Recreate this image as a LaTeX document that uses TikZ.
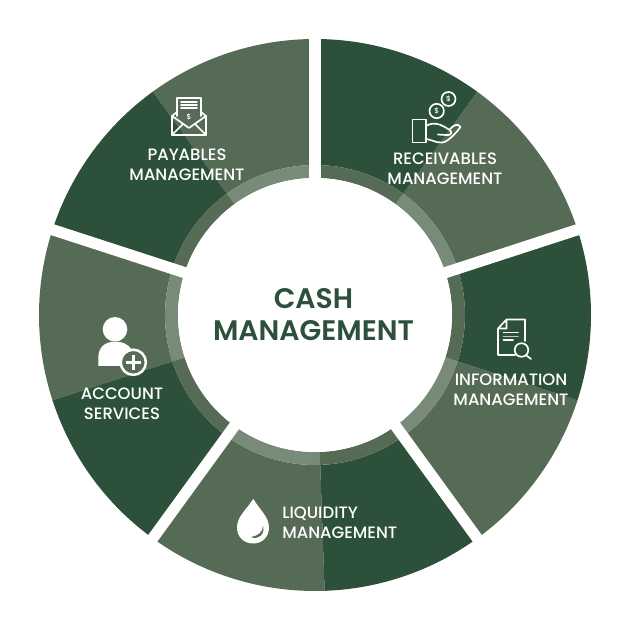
\documentclass[tikz,border=0pt]{standalone}
\usepackage{fontspec}
\setmainfont{Poppins}
\newfontfamily\lblfont{Poppins Medium}
\newfontfamily\ttlfont{Poppins SemiBold}
\usepackage{tikz}
\definecolor{darkgreen}{HTML}{2D503A}
\definecolor{midgreen}{HTML}{566B56}
\definecolor{palegreen}{HTML}{778B78}
\tikzset{
  lbl/.style={text=white, font=\fontsize{12.35}{15}\selectfont\lblfont, align=center, inner sep=0pt},
  ico/.style={draw=white, line width=1.25pt, line join=round, line cap=round},
  coin/.style={text=white, font=\fontsize{5.5}{6}\selectfont\lblfont, inner sep=0pt}
}
\def\sector#1#2#3#4{
  \fill[#3] (#1:276) arc[start angle=#1, end angle=#2, radius=276] -- (#2:150) arc[start angle=#2, end angle=#1, radius=150] -- cycle;
  \fill[#4] (#1:150) arc[start angle=#1, end angle=#2, radius=150] -- (#2:137) arc[start angle=#2, end angle=#1, radius=137] -- cycle;
}
\begin{document}
\begin{tikzpicture}[x=0.75pt, y=0.75pt]
        \useasboundingbox (-315,-313) rectangle (317,315);
        \coordinate (c) at (0,0);
        % the wheel, five parts of two tones
        \foreach \x/\m in {18/54,-54/-18,-126/-88,-198/-162,-270/-234}{
        \pgfmathsetmacro{\e}{\x+72}
        \sector{\x}{\m}{midgreen}{palegreen}
        \sector{\m}{\e}{darkgreen}{midgreen}
        }
        \foreach \x in {90,18,-54,-126,162}{
        \coordinate (g\x) at (\x:290);
        \draw[white, line width=8.4pt] (c) -- (g\x);
        }
        \fill[white] (c) circle[radius=137];
        \node[text=darkgreen, font=\fontsize{21.2}{24}\selectfont\ttlfont, align=center, inner sep=0pt] (title) at (-1.5,0.5) {CASH\\MANAGEMENT};
        % labels
        \node[lbl] (payables) at (-128,150) {PAYABLES\\MANAGEMENT};
        \node[lbl] (receivables) at (130,146) {RECEIVABLES\\MANAGEMENT};
        \node[lbl] (information) at (196,-75) {INFORMATION\\MANAGEMENT};
        \node[lbl] (account) at (-193,-89) {ACCOUNT\\SERVICES};
        \node[lbl, align=left, anchor=west] (liquidity) at (-33,-208) {LIQUIDITY\\MANAGEMENT};
        % icons, in picture pixels
        \begin{scope}[shift={(-315,315)}, y=-0.75pt]
        % envelope
        \draw[ico] (177,116) -- (177,98) -- (201,98) -- (201,116);
        \draw[ico] (181,102) -- (197,102) (181,105) -- (197,105) (181,108) -- (197,108);
        \draw[ico] (177,112) -- (172,116) -- (172,135) -- (206,135) -- (206,116) -- (201,112);
        \draw[ico] (172,116) -- (189,128) -- (206,116) (172,135) -- (183,124) (206,135) -- (195,124);
        \node[coin] (bill) at (189,116.5) {\$};
        % hand and coins
        \draw[ico] (412.5,119.5) rectangle (426,142.5);
        \draw[ico] (426,126) .. controls (434,121) and (442,125) .. (448,129) .. controls (454,132) and (451,136) .. (446,135) -- (438,134.5);
        \draw[ico] (426,139) .. controls (434,140) and (440,146) .. (448,140) .. controls (452,137) and (457,132) .. (460.5,127) .. controls (458,123) and (454,125) .. (450,129);
        \draw[ico] (436.7,111) circle[radius=7.2] (448.5,99) circle[radius=7];
        \node[coin] (coina) at (436.7,111) {\$};
        \node[coin] (coinb) at (448.5,99) {\$};
        % document and glass
        \draw[ico] (506.5,319.5) -- (525,319.5) -- (525,341) (515,355) -- (498,355) -- (498,328.5) -- (506.5,319.5) -- (506.5,328.5) -- (498,328.5);
        \draw[ico] (503.5,332.5) -- (518,332.5) (503.5,340) -- (513,340);
        \draw[ico, draw=palegreen!50!white] (503.5,336.5) -- (518,336.5);
        \draw[ico] (521.5,350) circle[radius=6.8] (526.5,355.5) -- (531,359);
        % person
        \fill[white] (115,329.3) circle[radius=12.3];
        \fill[white] (98.3,366) -- (98.3,358) .. controls (98.3,347) and (105,341.7) .. (115,341.7) .. controls (123,341.7) and (128,344) .. (132,350) -- (125,366) -- cycle;
        \draw[white, fill=midgreen, line width=1.9pt] (133.3,362.3) circle[radius=12.6];
        \draw[white, line width=2.3pt] (126,362.3) -- (140.6,362.3) (133.3,355) -- (133.3,369.6);
        % drop
        \fill[white] (253.3,499) .. controls (246,510) and (237,517) .. (237,527.5) .. controls (237,537) and (244,543.5) .. (253.3,543.5) .. controls (262,543.5) and (269,537) .. (269,527.5) .. controls (269,517) and (260,510) .. (253.3,499) -- cycle;
        \fill[midgreen] (251,537) .. controls (258,536) and (263,532) .. (263,526) .. controls (265.5,534) and (258,540.5) .. (251,537) -- cycle;
        \end{scope}
      \end{tikzpicture}
\end{document}
